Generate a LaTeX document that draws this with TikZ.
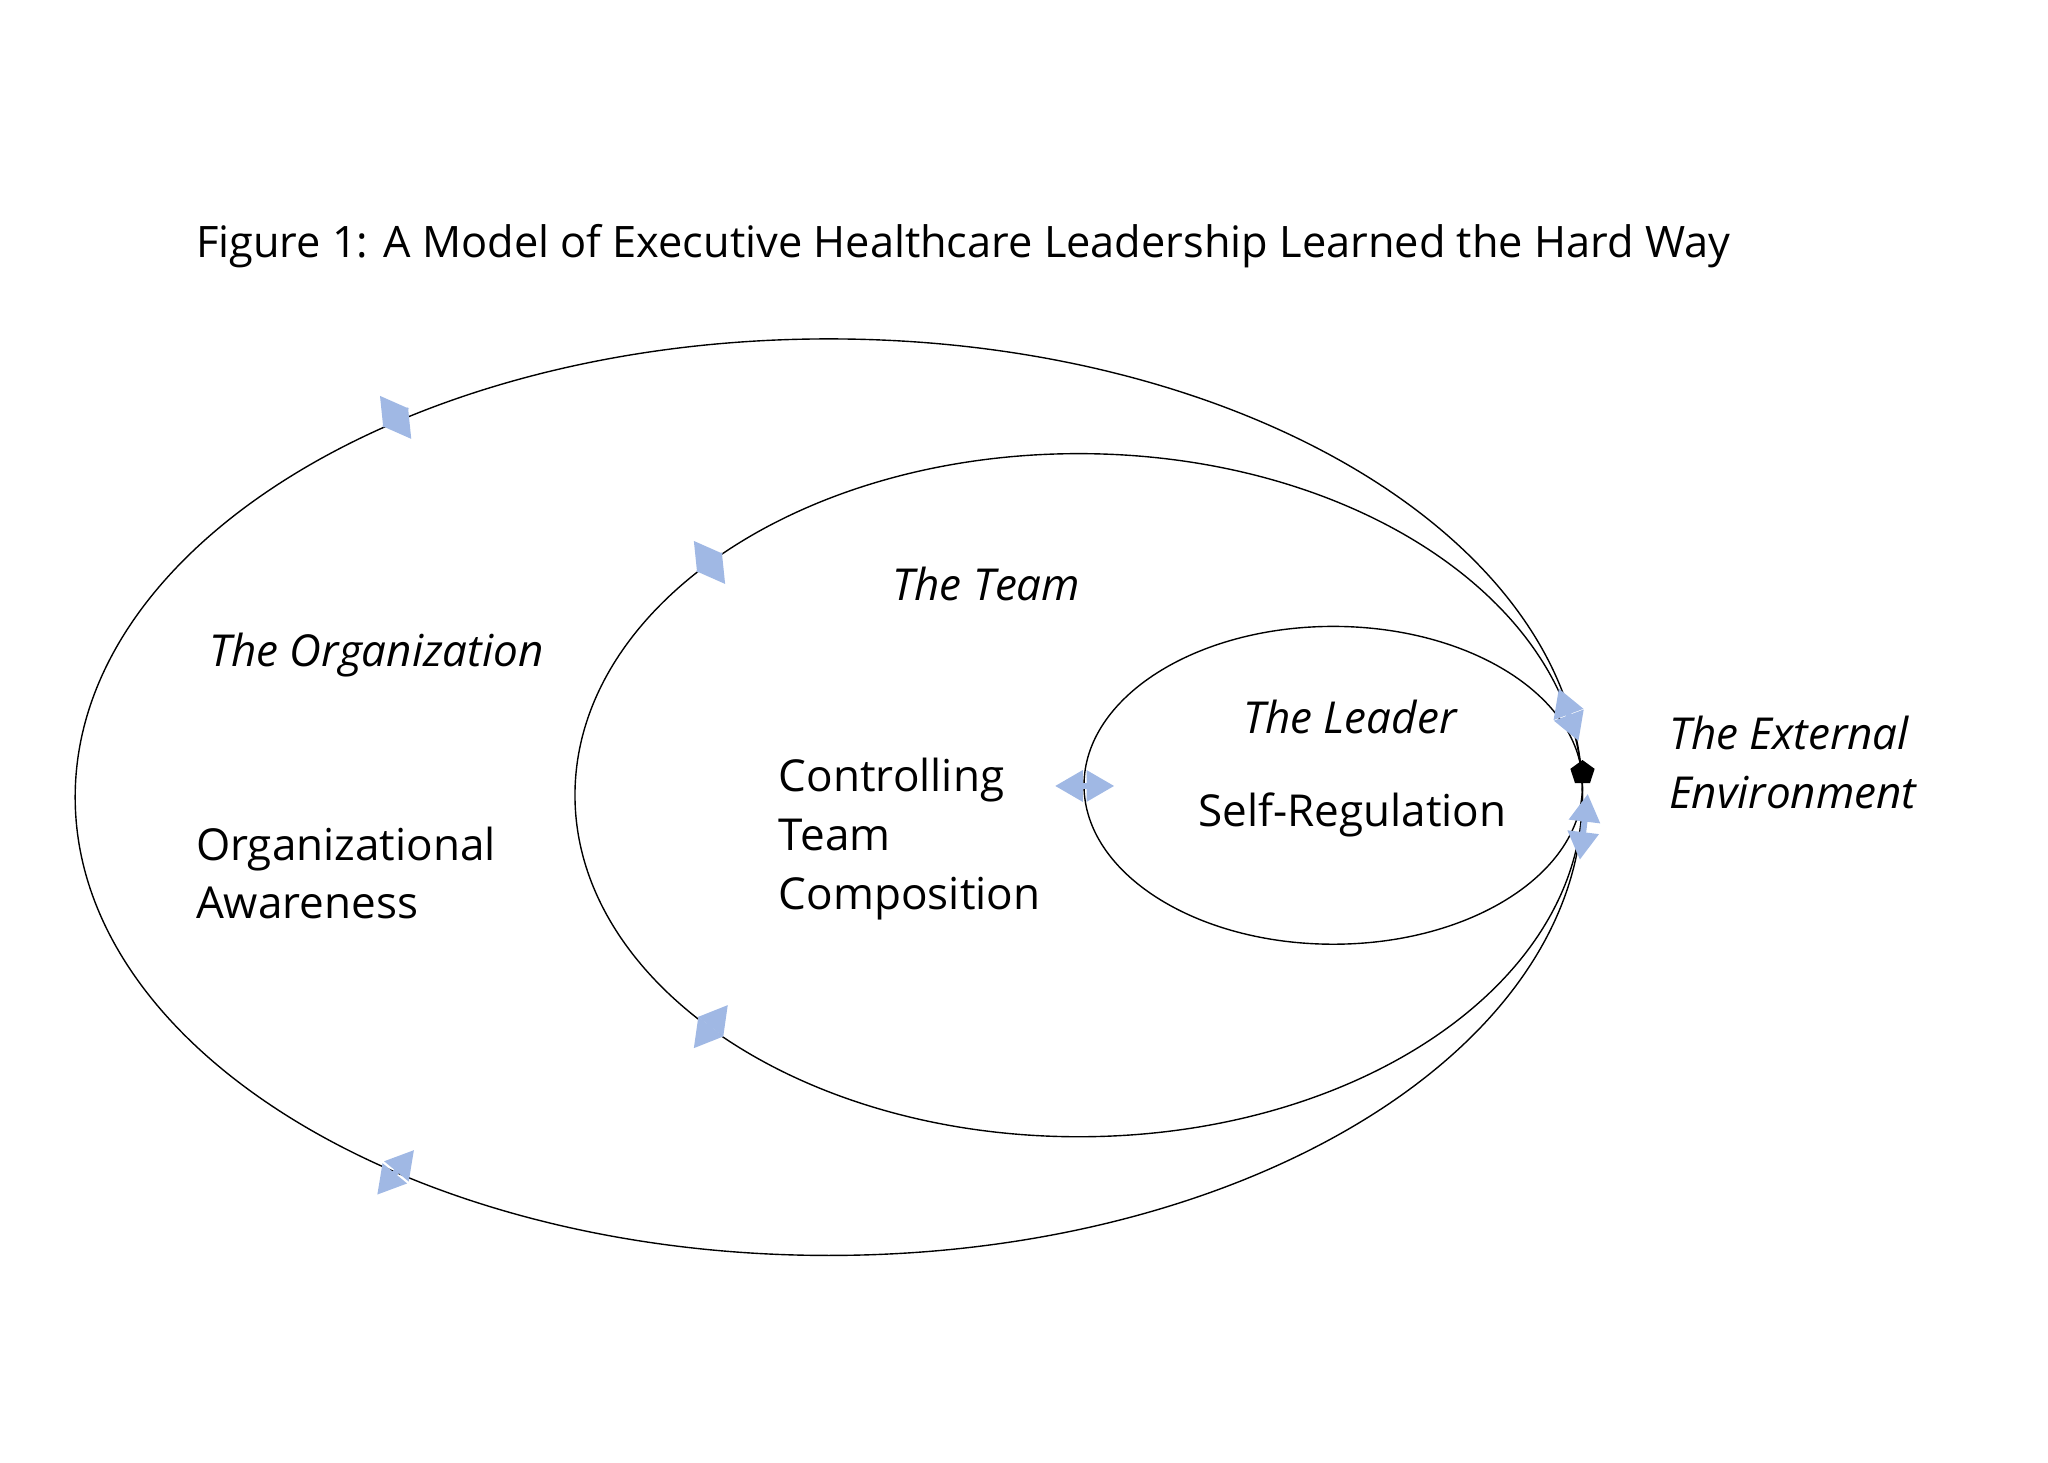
\documentclass[tikz,border=0pt]{standalone}
\usepackage{fontspec}
\setmainfont{Open Sans}
\usetikzlibrary{shapes.geometric,arrows.meta}
\definecolor{arrblue}{RGB}{160,184,228}
\tikzset{
  lbl/.style={anchor=west,inner sep=0pt,font=\fontsize{9.5}{12.7}\selectfont,align=left},
  ilbl/.style={lbl,font=\fontsize{9.5}{12.7}\selectfont\itshape},
  ring/.style={draw=black,line width=0.3pt},
  darr/.style={arrblue,line width=1.3pt,{Triangle[length=6pt,width=6.5pt]}-{Triangle[length=6pt,width=6.5pt]}}
}
\begin{document}
\begin{tikzpicture}
\useasboundingbox (0,0) rectangle (15.53,-11.09);
\node[lbl,font=\fontsize{9.35}{12}\selectfont] (title) at (1.48,-1.87) {Figure 1: A Model of Executive Healthcare Leadership Learned the Hard Way};
\draw[ring] (6.285,-6.045) ellipse [x radius=5.715, y radius=3.475];
\draw[ring] (8.18,-6.03) ellipse [x radius=3.82, y radius=2.59];
\draw[ring] (10.11,-5.955) ellipse [x radius=1.89, y radius=1.205];
\node[regular polygon,regular polygon sides=5,fill=black,inner sep=0pt,minimum size=5.5pt] (pent) at (12.0,-5.86) {};
\node[ilbl] (org) at (1.58,-4.97) {The Organization};
\node[lbl] (orga) at (1.48,-6.62) {Organizational\\Awareness};
\node[ilbl] (team) at (6.76,-4.43) {The Team};
\node[lbl] (ctc) at (5.90,-6.36) {Controlling\\Team\\Composition};
\node[ilbl] (lead) at (9.42,-5.44) {The Leader};
\node[lbl] (self) at (9.08,-6.18) {Self-Regulation};
\node[ilbl] (ext) at (12.65,-5.78) {The External\\Environment};
\coordinate (a1) at (2.88,-3.00); \coordinate (b1) at (3.12,-3.33);
\coordinate (a2) at (5.26,-4.10); \coordinate (b2) at (5.50,-4.43);
\coordinate (a3) at (5.26,-7.95); \coordinate (b3) at (5.52,-7.62);
\coordinate (a4) at (2.86,-9.06); \coordinate (b4) at (3.14,-8.72);
\coordinate (a5) at (8.00,-5.96); \coordinate (b5) at (8.45,-5.96);
\coordinate (a6) at (11.82,-5.22); \coordinate (b6) at (11.97,-5.62);
\coordinate (a7) at (12.04,-6.02); \coordinate (b7) at (11.98,-6.52);
\draw[darr] (a1) -- (b1);
\draw[darr] (a2) -- (b2);
\draw[darr] (a3) -- (b3);
\draw[darr] (a4) -- (b4);
\draw[darr] (a5) -- (b5);
\draw[darr] (a6) -- (b6);
\draw[darr] (a7) -- (b7);
\end{tikzpicture}
\end{document}
